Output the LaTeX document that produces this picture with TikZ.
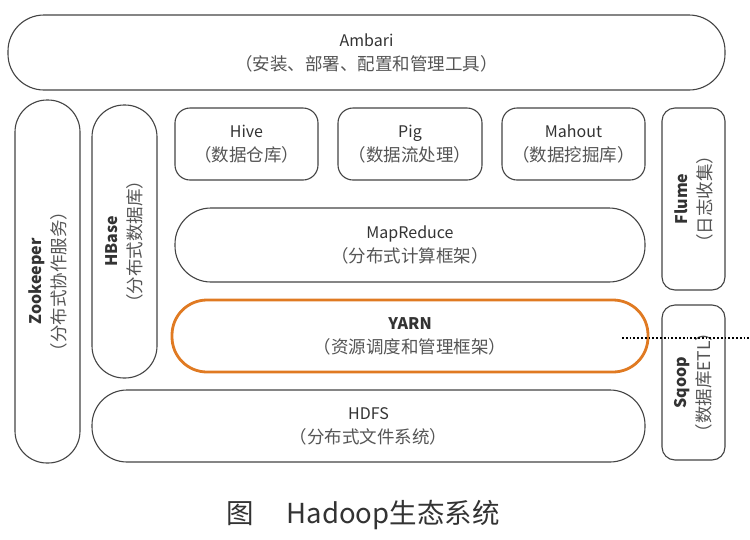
\documentclass[tikz,border=0pt]{standalone}
\usepackage{fontspec}
\setmainfont{Noto Sans CJK SC}
\definecolor{edge}{HTML}{444444}
\definecolor{ttl}{HTML}{333333}
\definecolor{sub}{HTML}{555555}
\definecolor{yarnc}{HTML}{E07A22}
\begin{document}
\begin{tikzpicture}[x=1pt,y=-1pt,
  base/.style={draw=edge, line width=1.1pt, fill=white, inner sep=0pt, align=center,
    font=\fontsize{16}{24}\selectfont, text=ttl},
  pill/.style={base, rounded corners=#1},
  rbox/.style={base, rounded corners=15pt},
]
\useasboundingbox[fill=white] (0,0) rectangle (750,539);
\newcommand{\two}[2]{#1\\{\color{sub}\fontsize{17.5}{24}\selectfont （#2）}}
\newcommand{\twob}[2]{\textbf{#1}\\{\color{sub}\fontsize{17.5}{24}\selectfont （#2）}}
\node[pill=36pt, minimum width=717pt, minimum height=75pt] (ambari) at (366.5,52.5) {\two{Ambari}{安装、部署、配置和管理工具}};
\node[pill=32pt, rotate=90, minimum width=363pt, minimum height=65pt] (zoo) at (47.5,281.5) {\twob{Zookeeper}{分布式协作服务}};
\node[pill=32pt, rotate=90, minimum width=273pt, minimum height=65pt] (hbase) at (124.5,241.5) {\twob{HBase}{分布式数据库}};
\node[rbox, minimum width=143pt, minimum height=72pt] (hive) at (246.5,144) {\two{Hive}{数据仓库}};
\node[rbox, minimum width=144pt, minimum height=72pt] (pig) at (410,144) {\two{Pig}{数据流处理}};
\node[rbox, minimum width=143pt, minimum height=72pt] (mahout) at (573.5,144) {\two{Mahout}{数据挖掘库}};
\node[pill=36pt, minimum width=470pt, minimum height=74pt] (mr) at (410,245) {\two{MapReduce}{分布式计算框架}};
\node[pill=35pt, minimum width=476pt, minimum height=72pt, draw=yarnc, line width=2.8pt] (yarn) at (410,336) {\twob{YARN}{资源调度和管理框架}};
\node[pill=35pt, minimum width=553pt, minimum height=72pt] (hdfs) at (368.5,426) {\two{HDFS}{分布式文件系统}};
\node[rbox, rounded corners=13pt, rotate=90, minimum width=182pt, minimum height=63pt] (flume) at (693.5,199) {\twob{Flume}{日志收集}};
\node[rbox, rounded corners=13pt, rotate=90, minimum width=155pt, minimum height=63pt] (sqoop) at (693.5,382.5) {\twob{Sqoop}{数据库ETL}};
\coordinate (d1) at (622,338);
\coordinate (d2) at (750,338);
\draw[line width=1.8pt, dotted, black] (d1) -- (d2);
\node[font=\fontsize{27.5}{32}\selectfont, text=ttl] (cap) at (363,515) {图\hspace{1.2em}Hadoop生态系统};
\end{tikzpicture}
\end{document}
